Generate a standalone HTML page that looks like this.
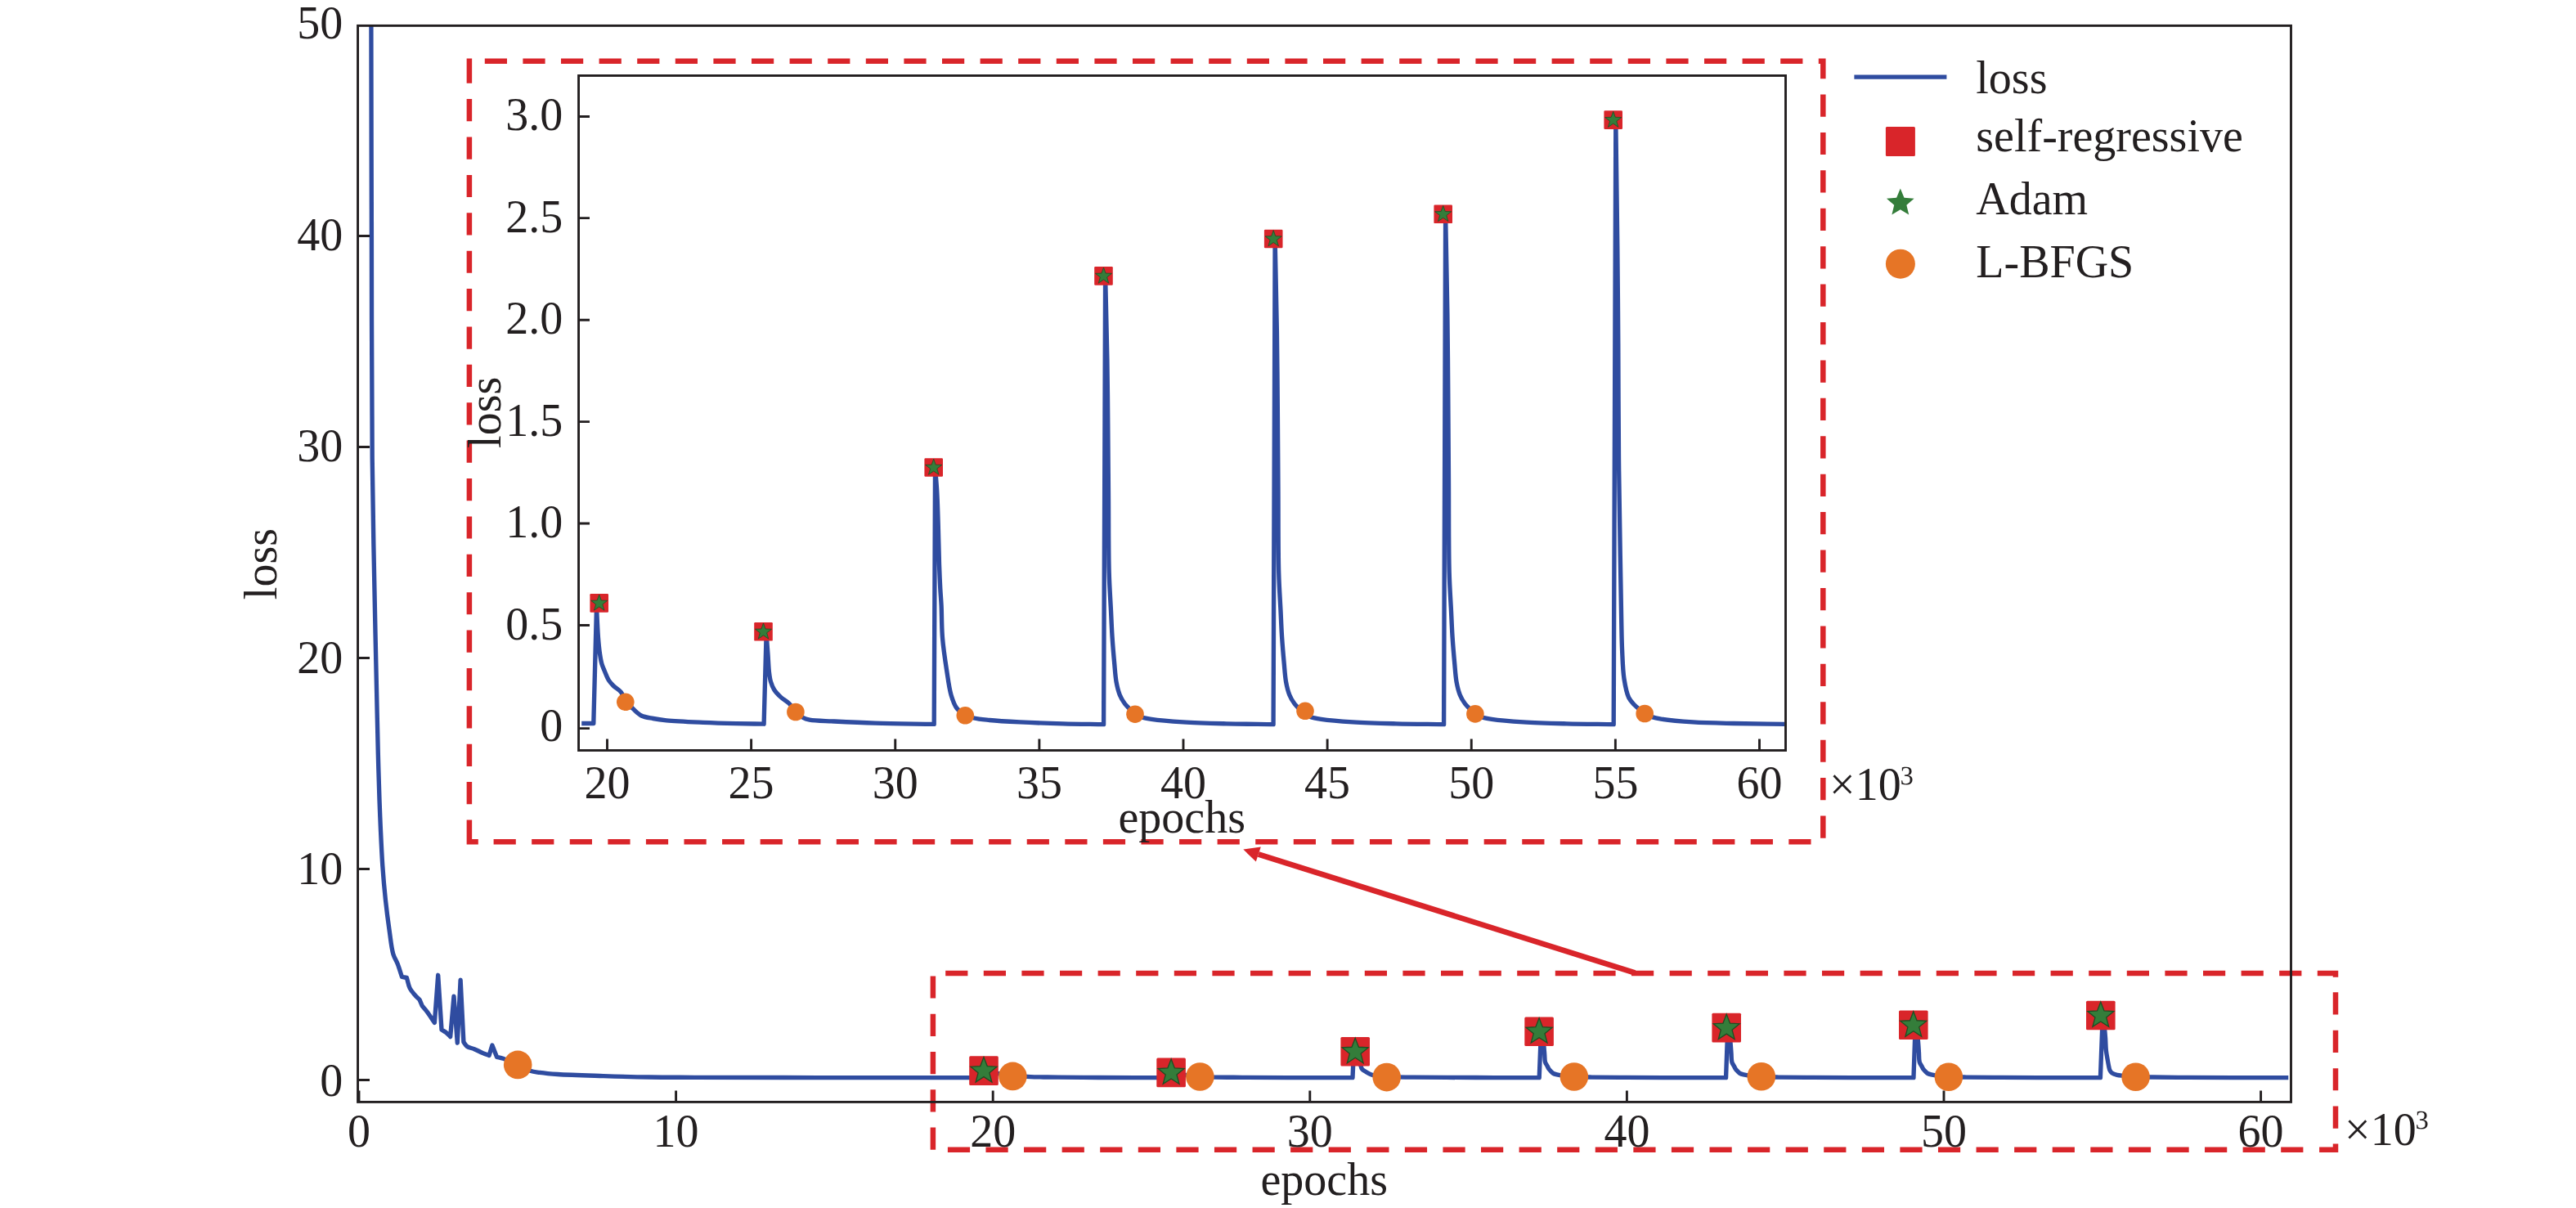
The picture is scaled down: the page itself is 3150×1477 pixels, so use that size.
<!DOCTYPE html>
<html><head><meta charset="utf-8"><style>
html,body{margin:0;padding:0;background:#fff;}
body{width:3150px;height:1477px;overflow:hidden;}
svg{display:block;font-family:"Liberation Serif",serif;}
</style></head><body>
<svg width="3150" height="1477" viewBox="0 0 3150 1477">
<rect x="0" y="0" width="3150" height="1477" fill="#ffffff"/>
<defs>
<clipPath id="mclip"><rect x="437.55" y="31.4" width="2363.95" height="1316.0"/></clipPath>
<clipPath id="iclip"><rect x="707.55" y="92.45" width="1475.95" height="825.05"/></clipPath>
</defs>
<g clip-path="url(#mclip)"><path d="M453.9,0 C453.9,10.33 453.89,15.66 453.9,31 C453.94,75.17 454.19,201.12 454.4,288 C454.62,377.38 454.42,481.43 455.2,560 C455.8,620.07 456.88,666 457.9,719 C458.92,772 460.37,837.35 461.3,878 C461.88,903.28 462.21,919.17 462.8,939.5 C463.38,959.5 463.97,979.16 464.8,999 C465.63,1018.86 466.56,1040.55 467.8,1058.6 C468.83,1073.66 469.96,1086.5 471.4,1100 C472.78,1112.98 474.51,1126.35 476.2,1138.1 C477.66,1148.27 478.61,1159.19 480.8,1166.5 C482.27,1171.4 484.42,1174.02 486.1,1178.3 C488.02,1183.21 489.7,1189.03 491.5,1194.4 L497.4,1195.5 C498.67,1199.8 499.32,1204.68 501.2,1208.4 C502.88,1211.73 505.55,1214.53 507.7,1217 C509.51,1219.08 511.3,1220.6 513.1,1222.4 L516.3,1230 C518.1,1232.13 519.71,1233.8 521.7,1236.4 C524.54,1240.11 528.17,1245.73 531.4,1250.4 L535.7,1192.3 L540,1259 C541.8,1260.1 543.68,1260.95 545.4,1262.3 C547.27,1263.77 548.93,1265.83 550.7,1267.6 L555,1218.1 L559.3,1275.2 L563.1,1198.2 L566.9,1274.1 C568.33,1275.9 569.27,1278.11 571.2,1279.5 C573.45,1281.12 576.97,1281.44 580,1282.7 C583.38,1284.1 587.26,1286.23 590.5,1287.6 C593.22,1288.75 595.57,1289.53 598.1,1290.5 L601.9,1278.1 L607.6,1292.4 C610.13,1293.03 612.17,1293.29 615.2,1294.3 C619.99,1295.9 627.58,1299.3 633.3,1301.9 C638.6,1304.31 643.59,1307.72 648.4,1309.3 C652.43,1310.62 655.51,1310.78 660,1311.4 C666.14,1312.25 672.91,1312.9 681.9,1313.5 C696.24,1314.46 719.16,1315.02 737.8,1315.6 C756.43,1316.18 775.07,1316.72 793.7,1317 C812.33,1317.28 826.45,1317.21 849.6,1317.3 C887.58,1317.44 947.64,1317.55 1000,1317.6 C1057.24,1317.66 1119.8,1317.6 1179.7,1317.6 L1179.76,1317.57 L1195.82,1317.57 L1199.9,1302.84 C1200.63,1304.15 1201.26,1305.72 1202.1,1306.77 C1202.79,1307.64 1203.58,1308.28 1204.41,1308.84 C1205.2,1309.37 1206,1309.72 1206.94,1310.06 C1208,1310.44 1209.14,1310.61 1210.46,1310.91 C1212.13,1311.28 1214.21,1311.79 1216.18,1312.11 C1218.24,1312.44 1220.19,1312.6 1222.56,1312.82 C1225.55,1313.1 1229.8,1313.22 1232.69,1313.61 C1234.87,1313.9 1236.19,1314.36 1238.41,1314.68 C1241.45,1315.12 1245.68,1315.44 1249.3,1315.76 C1252.9,1316.08 1256.14,1316.4 1260.08,1316.6 C1264.88,1316.84 1270.57,1316.86 1276.04,1316.96 C1281.84,1317.06 1286.51,1317.13 1293.98,1317.2 C1306.38,1317.31 1327.47,1317.39 1343.49,1317.46 C1358.59,1317.52 1373.42,1317.56 1387.51,1317.59 C1400.51,1317.62 1412.52,1317.63 1425.03,1317.65 L1428.33,1306.25 C1429.03,1307.11 1429.77,1307.99 1430.42,1308.84 C1431.01,1309.61 1431.4,1310.53 1432.07,1311.11 C1432.7,1311.67 1433.37,1311.98 1434.27,1312.31 C1435.52,1312.78 1437.17,1313.04 1439,1313.34 C1441.48,1313.73 1444.71,1313.99 1447.81,1314.26 C1451.24,1314.56 1455.28,1314.72 1458.7,1315.03 C1461.76,1315.32 1464.4,1315.74 1467.39,1316.03 C1470.58,1316.34 1474.05,1316.64 1477.29,1316.82 C1480.43,1317 1482.51,1317.06 1486.54,1317.13 C1494.15,1317.28 1507.15,1317.26 1519.55,1317.32 C1535.56,1317.4 1554.55,1317.49 1574.57,1317.55 C1598.62,1317.62 1627.53,1317.63 1654.01,1317.67 L1655.44,1285.2 C1656.25,1286.18 1657.2,1287.02 1657.86,1288.14 C1658.58,1289.36 1659.02,1290.81 1659.51,1292.28 C1660.06,1293.9 1660.4,1295.97 1660.94,1297.46 C1661.38,1298.64 1661.86,1299.65 1662.37,1300.56 C1662.82,1301.34 1663.37,1301.79 1663.8,1302.63 C1664.39,1303.74 1664.39,1305.52 1665.35,1306.77 C1666.55,1308.35 1669.1,1309.69 1671.07,1310.91 C1672.99,1312.09 1674.85,1313.23 1677.01,1314.01 C1679.33,1314.85 1681.79,1315.26 1684.6,1315.67 C1688.03,1316.16 1692.29,1316.29 1696.16,1316.49 C1700.03,1316.7 1703.37,1316.8 1707.82,1316.91 C1713.76,1317.05 1720.53,1317.09 1728.62,1317.17 C1739.93,1317.27 1754.54,1317.34 1769.33,1317.41 C1787.03,1317.5 1808.53,1317.56 1827.65,1317.61 C1846.14,1317.66 1864.03,1317.67 1882.23,1317.69 L1884.43,1260.98 C1885.27,1264.48 1886.36,1268.17 1886.96,1271.48 C1887.48,1274.38 1887.66,1276.89 1887.95,1279.73 C1888.25,1282.76 1888.46,1285.99 1888.72,1289.11 C1888.97,1292.24 1888.75,1295.93 1889.49,1298.49 C1890.05,1300.44 1891.25,1301.89 1892.02,1303.35 C1892.66,1304.56 1893.06,1305.61 1893.78,1306.66 C1894.54,1307.79 1895.58,1308.9 1896.53,1309.87 C1897.42,1310.78 1898.17,1311.7 1899.28,1312.35 C1900.54,1313.1 1902.11,1313.51 1903.79,1313.95 C1905.84,1314.47 1908.48,1314.8 1910.72,1315.1 C1912.83,1315.38 1914.76,1315.51 1916.89,1315.72 C1919.18,1315.94 1921.61,1316.2 1924.04,1316.37 C1926.56,1316.55 1928.76,1316.66 1931.74,1316.76 C1935.89,1316.91 1940.38,1316.96 1946.6,1317.05 C1957.1,1317.2 1973.71,1317.32 1988.96,1317.41 C2006.85,1317.52 2027.44,1317.56 2047.28,1317.61 C2067.94,1317.66 2089.46,1317.67 2110.55,1317.69 L2112.75,1256.28 C2113.59,1260.22 2114.69,1264.38 2115.28,1268.1 C2115.8,1271.37 2115.98,1274.19 2116.27,1277.38 C2116.58,1280.79 2116.78,1284.42 2117.04,1287.94 C2117.3,1291.46 2117.02,1295.71 2117.81,1298.49 C2118.38,1300.49 2119.57,1301.89 2120.34,1303.35 C2120.98,1304.56 2121.38,1305.61 2122.1,1306.66 C2122.87,1307.79 2123.9,1308.9 2124.85,1309.87 C2125.74,1310.78 2126.5,1311.7 2127.6,1312.35 C2128.86,1313.1 2130.43,1313.51 2132.12,1313.95 C2134.16,1314.47 2136.8,1314.8 2139.05,1315.1 C2141.16,1315.38 2143.08,1315.51 2145.21,1315.72 C2147.51,1315.94 2149.93,1316.2 2152.36,1316.37 C2154.88,1316.55 2157.08,1316.66 2160.07,1316.76 C2164.21,1316.91 2168.7,1316.96 2174.92,1317.05 C2185.42,1317.2 2202.04,1317.32 2217.28,1317.41 C2235.17,1317.52 2255.68,1317.56 2275.6,1317.61 C2296.53,1317.66 2318.52,1317.67 2339.97,1317.69 L2342.17,1253.15 C2343.02,1257.39 2344.11,1261.86 2344.7,1265.85 C2345.23,1269.36 2345.41,1272.39 2345.69,1275.82 C2346,1279.48 2346.21,1283.38 2346.47,1287.16 C2346.72,1290.93 2346.41,1295.57 2347.24,1298.49 C2347.81,1300.52 2349,1301.89 2349.77,1303.35 C2350.4,1304.56 2350.81,1305.61 2351.53,1306.66 C2352.29,1307.79 2353.33,1308.9 2354.28,1309.87 C2355.17,1310.78 2355.92,1311.7 2357.03,1312.35 C2358.29,1313.1 2359.85,1313.51 2361.54,1313.95 C2363.58,1314.47 2366.22,1314.8 2368.47,1315.1 C2370.58,1315.38 2372.5,1315.51 2374.63,1315.72 C2376.93,1315.94 2379.36,1316.2 2381.79,1316.37 C2384.3,1316.55 2386.5,1316.66 2389.49,1316.76 C2393.63,1316.91 2398.12,1316.96 2404.34,1317.05 C2414.85,1317.2 2431.46,1317.32 2446.71,1317.41 C2464.6,1317.52 2485.18,1317.56 2505.03,1317.61 C2525.71,1317.66 2547.28,1317.67 2568.41,1317.69 L2571.27,1241.28 C2572,1246.55 2572.9,1252.14 2573.47,1257.11 C2573.97,1261.49 2574.26,1265.22 2574.57,1269.52 C2574.9,1274.16 2574.85,1279.38 2575.34,1284.01 C2575.8,1288.32 2576.68,1292.7 2577.32,1296.42 C2577.85,1299.46 2578.36,1302.51 2578.86,1304.7 C2579.2,1306.16 2579.29,1307.16 2579.85,1308.32 C2580.46,1309.58 2581.24,1310.98 2582.49,1311.94 C2584.02,1313.11 2586.53,1313.77 2588.76,1314.32 C2591.17,1314.91 2593.96,1315 2596.47,1315.25 C2598.84,1315.49 2601.08,1315.64 2603.4,1315.82 C2605.74,1316 2607.92,1316.19 2610.44,1316.34 C2613.36,1316.51 2616.54,1316.65 2619.9,1316.76 C2623.74,1316.89 2626.88,1316.94 2632.23,1317.02 C2642.17,1317.17 2659.79,1317.32 2674.92,1317.41 C2692.1,1317.52 2710.61,1317.54 2729.94,1317.58 C2751.48,1317.62 2775.49,1317.63 2798.27,1317.66" fill="none" stroke="#2f4ca0" stroke-width="5.35" stroke-linejoin="round" stroke-linecap="butt"/></g>
<rect x="1185.2" y="1291.3" width="35.6" height="35.6" rx="1.5" fill="#d9252a"/>
<rect x="1414.3" y="1293.6" width="35.6" height="35.6" rx="1.5" fill="#d9252a"/>
<rect x="1639.4" y="1268" width="35.6" height="35.6" rx="1.5" fill="#d9252a"/>
<rect x="1864.3" y="1243.4" width="35.6" height="35.6" rx="1.5" fill="#d9252a"/>
<rect x="2093.4" y="1238.8" width="35.6" height="35.6" rx="1.5" fill="#d9252a"/>
<rect x="2322" y="1235.5" width="35.6" height="35.6" rx="1.5" fill="#d9252a"/>
<rect x="2551" y="1223.7" width="35.6" height="35.6" rx="1.5" fill="#d9252a"/>
<path d="M1203,1292.6 L1198.75,1303.56 L1187.02,1304.21 L1196.13,1311.63 L1193.13,1322.99 L1203,1316.62 L1212.87,1322.99 L1209.87,1311.63 L1218.98,1304.21 L1207.25,1303.56Z" fill="#347d3a" stroke="#1e4d22" stroke-width="1.3" stroke-linejoin="miter"/>
<path d="M1432.1,1294.9 L1427.85,1305.86 L1416.12,1306.51 L1425.23,1313.93 L1422.23,1325.29 L1432.1,1318.92 L1441.97,1325.29 L1438.97,1313.93 L1448.08,1306.51 L1436.35,1305.86Z" fill="#347d3a" stroke="#1e4d22" stroke-width="1.3" stroke-linejoin="miter"/>
<path d="M1657.2,1269.3 L1652.95,1280.26 L1641.22,1280.91 L1650.33,1288.33 L1647.33,1299.69 L1657.2,1293.32 L1667.07,1299.69 L1664.07,1288.33 L1673.18,1280.91 L1661.45,1280.26Z" fill="#347d3a" stroke="#1e4d22" stroke-width="1.3" stroke-linejoin="miter"/>
<path d="M1882.1,1244.7 L1877.85,1255.66 L1866.12,1256.31 L1875.23,1263.73 L1872.23,1275.09 L1882.1,1268.72 L1891.97,1275.09 L1888.97,1263.73 L1898.08,1256.31 L1886.35,1255.66Z" fill="#347d3a" stroke="#1e4d22" stroke-width="1.3" stroke-linejoin="miter"/>
<path d="M2111.2,1240.1 L2106.95,1251.06 L2095.22,1251.71 L2104.33,1259.13 L2101.33,1270.49 L2111.2,1264.12 L2121.07,1270.49 L2118.07,1259.13 L2127.18,1251.71 L2115.45,1251.06Z" fill="#347d3a" stroke="#1e4d22" stroke-width="1.3" stroke-linejoin="miter"/>
<path d="M2339.8,1236.8 L2335.55,1247.76 L2323.82,1248.41 L2332.93,1255.83 L2329.93,1267.19 L2339.8,1260.82 L2349.67,1267.19 L2346.67,1255.83 L2355.78,1248.41 L2344.05,1247.76Z" fill="#347d3a" stroke="#1e4d22" stroke-width="1.3" stroke-linejoin="miter"/>
<path d="M2568.8,1225 L2564.55,1235.96 L2552.82,1236.61 L2561.93,1244.03 L2558.93,1255.39 L2568.8,1249.02 L2578.67,1255.39 L2575.67,1244.03 L2584.78,1236.61 L2573.05,1235.96Z" fill="#347d3a" stroke="#1e4d22" stroke-width="1.3" stroke-linejoin="miter"/>
<circle cx="633.2" cy="1301.9" r="17.3" fill="#e67526"/>
<circle cx="1238.4" cy="1315.9" r="17.3" fill="#e67526"/>
<circle cx="1467.4" cy="1316.5" r="17.3" fill="#e67526"/>
<circle cx="1695.7" cy="1317.1" r="17.3" fill="#e67526"/>
<circle cx="1924.9" cy="1316.5" r="17.3" fill="#e67526"/>
<circle cx="2153.8" cy="1316.3" r="17.3" fill="#e67526"/>
<circle cx="2382.9" cy="1316.8" r="17.3" fill="#e67526"/>
<circle cx="2611.6" cy="1316.8" r="17.3" fill="#e67526"/>
<path d="M592.8,74.85 H620 M639.4,74.85 H666.6 M686,74.85 H713.2 M732.6,74.85 H759.8 M779.2,74.85 H806.4 M825.8,74.85 H853 M872.4,74.85 H899.6 M919,74.85 H946.2 M965.6,74.85 H992.8 M1012.2,74.85 H1039.4 M1058.8,74.85 H1086 M1105.4,74.85 H1132.6 M1152,74.85 H1179.2 M1198.6,74.85 H1225.8 M1245.2,74.85 H1272.4 M1291.8,74.85 H1319 M1338.4,74.85 H1365.6 M1385,74.85 H1412.2 M1431.6,74.85 H1458.8 M1478.2,74.85 H1505.4 M1524.8,74.85 H1552 M1571.4,74.85 H1598.6 M1618,74.85 H1645.2 M1664.6,74.85 H1691.8 M1711.2,74.85 H1738.4 M1757.8,74.85 H1785 M1804.4,74.85 H1831.6 M1851,74.85 H1878.2 M1897.6,74.85 H1924.8 M1944.2,74.85 H1971.4 M1990.8,74.85 H2018 M2037.4,74.85 H2064.6 M2084,74.85 H2111.2 M2130.6,74.85 H2157.8 M2177.2,74.85 H2204.4 M2223.8,74.85 H2229.3 V96.3 M573.9,71.6 V101.7 M573.9,121.1 V148.3 M573.9,167.49 V194.69 M573.9,213.88 V241.08 M573.9,260.27 V287.47 M573.9,306.66 V333.86 M573.9,353.05 V380.25 M573.9,399.44 V426.64 M573.9,445.83 V473.03 M573.9,492.22 V519.42 M573.9,538.61 V565.81 M573.9,585 V612.2 M573.9,631.39 V658.59 M573.9,677.78 V704.98 M573.9,724.17 V751.37 M573.9,770.56 V797.76 M573.9,816.95 V844.15 M573.9,863.34 V890.54 M573.9,909.73 V936.93 M573.9,956.12 V983.32 M573.9,1002.6 V1029.25 H584.8 M2229.3,115.5 V142.7 M2229.3,161.92 V189.12 M2229.3,208.34 V235.54 M2229.3,254.76 V281.96 M2229.3,301.18 V328.38 M2229.3,347.6 V374.8 M2229.3,394.02 V421.22 M2229.3,440.44 V467.64 M2229.3,486.86 V514.06 M2229.3,533.28 V560.48 M2229.3,579.7 V606.9 M2229.3,626.12 V653.32 M2229.3,672.54 V699.74 M2229.3,718.96 V746.16 M2229.3,765.38 V792.58 M2229.3,811.8 V839 M2229.3,858.22 V885.42 M2229.3,904.64 V931.84 M2229.3,951.06 V978.26 M2229.3,997.48 V1024.68 M603.6,1029.25 H630.8 M650.18,1029.25 H677.38 M696.76,1029.25 H723.96 M743.34,1029.25 H770.54 M789.92,1029.25 H817.12 M836.5,1029.25 H863.7 M883.08,1029.25 H910.28 M929.66,1029.25 H956.86 M976.24,1029.25 H1003.44 M1022.82,1029.25 H1050.02 M1069.4,1029.25 H1096.6 M1115.98,1029.25 H1143.18 M1162.56,1029.25 H1189.76 M1209.14,1029.25 H1236.34 M1255.72,1029.25 H1282.92 M1302.3,1029.25 H1329.5 M1348.88,1029.25 H1376.08 M1395.46,1029.25 H1422.66 M1442.04,1029.25 H1469.24 M1488.62,1029.25 H1515.82 M1535.2,1029.25 H1562.4 M1581.78,1029.25 H1608.98 M1628.36,1029.25 H1655.56 M1674.94,1029.25 H1702.14 M1721.52,1029.25 H1748.72 M1768.1,1029.25 H1795.3 M1814.68,1029.25 H1841.88 M1861.26,1029.25 H1888.46 M1907.84,1029.25 H1935.04 M1954.42,1029.25 H1981.62 M2001,1029.25 H2028.2 M2047.58,1029.25 H2074.78 M2094.16,1029.25 H2121.36 M2140.74,1029.25 H2167.94 M2187.32,1029.25 H2214.52 M1156.2,1189.9 H1183.4 M1202.8,1189.9 H1230 M1249.4,1189.9 H1276.6 M1296,1189.9 H1323.2 M1342.6,1189.9 H1369.8 M1389.2,1189.9 H1416.4 M1435.8,1189.9 H1463 M1482.4,1189.9 H1509.6 M1529,1189.9 H1556.2 M1575.6,1189.9 H1602.8 M1622.2,1189.9 H1649.4 M1668.8,1189.9 H1696 M1715.4,1189.9 H1742.6 M1762,1189.9 H1789.2 M1808.6,1189.9 H1835.8 M1855.2,1189.9 H1882.4 M1901.8,1189.9 H1929 M1948.4,1189.9 H1975.6 M1995,1189.9 H2022.2 M2041.6,1189.9 H2068.8 M2088.2,1189.9 H2115.4 M2134.8,1189.9 H2162 M2181.4,1189.9 H2208.6 M2228,1189.9 H2255.2 M2274.6,1189.9 H2301.8 M2321.2,1189.9 H2348.4 M2367.8,1189.9 H2395 M2414.4,1189.9 H2441.6 M2461,1189.9 H2488.2 M2507.6,1189.9 H2534.8 M2554.2,1189.9 H2581.4 M2600.8,1189.9 H2628 M2647.4,1189.9 H2674.6 M2694,1189.9 H2721.2 M2740.6,1189.9 H2767.8 M2787.2,1189.9 H2814.4 M2833.8,1189.9 H2856.0 V1194.7 M2856,1213.3 V1240.5 M2856,1259.72 V1286.92 M2856,1306.14 V1333.34 M2856,1352.56 V1379.76 M2856.0,1398.6 V1405.75 H2836.1 M1158.9,1405.75 H1186.1 M1205.48,1405.75 H1232.68 M1252.06,1405.75 H1279.26 M1298.64,1405.75 H1325.84 M1345.22,1405.75 H1372.42 M1391.8,1405.75 H1419 M1438.38,1405.75 H1465.58 M1484.96,1405.75 H1512.16 M1531.54,1405.75 H1558.74 M1578.12,1405.75 H1605.32 M1624.7,1405.75 H1651.9 M1671.28,1405.75 H1698.48 M1717.86,1405.75 H1745.06 M1764.44,1405.75 H1791.64 M1811.02,1405.75 H1838.22 M1857.6,1405.75 H1884.8 M1904.18,1405.75 H1931.38 M1950.76,1405.75 H1977.96 M1997.34,1405.75 H2024.54 M2043.92,1405.75 H2071.12 M2090.5,1405.75 H2117.7 M2137.08,1405.75 H2164.28 M2183.66,1405.75 H2210.86 M2230.24,1405.75 H2257.44 M2276.82,1405.75 H2304.02 M2323.4,1405.75 H2350.6 M2369.98,1405.75 H2397.18 M2416.56,1405.75 H2443.76 M2463.14,1405.75 H2490.34 M2509.72,1405.75 H2536.92 M2556.3,1405.75 H2583.5 M2602.88,1405.75 H2630.08 M2649.46,1405.75 H2676.66 M2696.04,1405.75 H2723.24 M2742.62,1405.75 H2769.82 M2789.2,1405.75 H2816.4 M1140.9,1378.6 V1405.8 M1140.9,1332.3 V1359.5 M1140.9,1286 V1313.2 M1140.9,1239.7 V1266.9 M1140.9,1193.4 V1220.6" fill="none" stroke="#d9252a" stroke-width="6.5" stroke-linecap="butt" stroke-linejoin="miter"/>
<line x1="1999.3" y1="1189.4" x2="1538.8" y2="1044.55" stroke="#d9252a" stroke-width="6.8"/>
<path d="M1520.3,1038.6 L1541.8,1035.6 L1535.8,1053.5 Z" fill="#d9252a"/>
<rect x="437.55" y="31.4" width="2363.95" height="1316" fill="none" stroke="#231f20" stroke-width="2.9"/>
<path d="M437.55,1320.5 H452 M437.55,1062.5 H452 M437.55,804.5 H452 M437.55,546.5 H452 M437.55,288.5 H452 M439,1347.4 V1333.5 M826.6,1347.4 V1333.5 M1214.2,1347.4 V1333.5 M1601.8,1347.4 V1333.5 M1989.4,1347.4 V1333.5 M2377,1347.4 V1333.5 M2764.6,1347.4 V1333.5" stroke="#231f20" stroke-width="2.9" fill="none"/>
<rect x="707.55" y="92.45" width="1475.95" height="825.05" fill="#ffffff" stroke="none"/>
<g clip-path="url(#iclip)"><path d="M711.2,884.45 L725.8,884.45 L729.5,742 C730.17,754.67 730.66,769.36 731.5,780 C732.11,787.74 732.74,794.22 733.6,800 C734.27,804.47 734.87,808.26 735.9,811.8 C736.78,814.82 737.86,817.05 739.1,820 C740.59,823.55 742.26,828.35 744.3,831.6 C746.02,834.34 747.83,836.25 750.1,838.5 C752.72,841.09 756.89,843.07 759.3,846.1 C761.68,849.09 762.18,853.2 764.5,856.5 C767.08,860.17 771.01,863.74 774.4,866.9 C777.59,869.87 780.36,873.08 784.2,875 C788.36,877.08 793.7,877.55 798.7,878.5 C803.95,879.5 808.2,880.13 815,880.8 C826.25,881.9 845.44,882.66 860,883.3 C873.72,883.9 887.2,884.28 900,884.6 C911.82,884.9 922.73,885 934.1,885.2 L937.1,775 C937.73,783.33 938.42,791.93 939,800 C939.55,807.57 939.76,815.85 940.5,822 C941.04,826.5 941.41,829.95 942.5,833.6 C943.54,837.1 944.83,840.44 946.8,843.5 C948.87,846.73 951.85,849.69 954.8,852.4 C957.81,855.16 961.73,857.05 964.7,859.9 C967.67,862.75 969.74,866.59 972.6,869.5 C975.39,872.34 978.48,875.39 981.6,877.2 C984.31,878.77 986.27,879.44 990,880.2 C996.85,881.6 1008.73,881.41 1020,882 C1034.55,882.76 1051.8,883.65 1070,884.2 C1091.86,884.86 1118.13,885 1142.2,885.4 L1143.5,571.5 C1144.23,581 1145.11,589.69 1145.7,600 C1146.4,612.2 1146.75,625.92 1147.2,640 C1147.7,655.74 1148,675.45 1148.5,690 C1148.89,701.27 1149.31,711.01 1149.8,720 C1150.2,727.34 1150.71,732.19 1151.1,740 C1151.65,751.04 1151.4,766.69 1152.5,780 C1153.6,793.36 1155.79,807.65 1157.7,820 C1159.36,830.74 1160.59,841.68 1163.1,850 C1165,856.29 1166.78,861.88 1170,866 C1172.8,869.59 1176.84,871.97 1180.5,874 C1183.89,875.88 1186.99,876.97 1191.1,878 C1196.43,879.34 1202.64,879.78 1210,880.5 C1220.27,881.51 1233.56,882.22 1247,882.9 C1263.08,883.71 1282.62,884.35 1300,884.8 C1316.81,885.24 1333.07,885.33 1349.6,885.6 L1351.6,337.4 C1352.37,371.24 1353.36,407.12 1353.9,438.93 C1354.38,467.12 1354.54,491.26 1354.8,518.7 C1355.08,547.95 1355.27,579.13 1355.5,609.35 C1355.73,639.57 1355.48,674.71 1356.2,700 C1356.72,718.22 1357.8,732.83 1358.5,747 C1359.08,758.69 1359.41,768.42 1360.1,779 C1360.78,789.42 1361.71,800.33 1362.6,810 C1363.39,818.52 1363.8,826.93 1365.1,834 C1366.16,839.75 1367.32,844.79 1369.2,849.4 C1370.89,853.52 1373.27,857.47 1375.5,860.5 C1377.29,862.93 1379.14,864.5 1381.1,866.5 C1383.16,868.6 1385.27,871.09 1387.6,872.8 C1389.79,874.41 1391.8,875.57 1394.6,876.6 C1398.29,877.95 1402.42,878.56 1408.1,879.4 C1417.62,880.81 1432.73,882.02 1446.6,882.9 C1462.84,883.93 1481.57,884.35 1499.6,884.8 C1518.37,885.27 1537.93,885.33 1557.1,885.6 L1559.1,292 C1559.87,330.08 1560.86,370.45 1561.4,406.24 C1561.88,437.96 1562.04,465.12 1562.3,496 C1562.58,528.91 1562.77,564 1563,598 C1563.23,632 1562.93,672.51 1563.7,700 C1564.22,718.67 1565.3,732.83 1566,747 C1566.58,758.69 1566.91,768.42 1567.6,779 C1568.28,789.42 1569.21,800.33 1570.1,810 C1570.89,818.52 1571.3,826.93 1572.6,834 C1573.66,839.75 1574.82,844.79 1576.7,849.4 C1578.39,853.52 1580.77,857.47 1583,860.5 C1584.79,862.93 1586.64,864.5 1588.6,866.5 C1590.66,868.6 1592.77,871.09 1595.1,872.8 C1597.29,874.41 1599.3,875.57 1602.1,876.6 C1605.79,877.95 1609.92,878.56 1615.6,879.4 C1625.12,880.81 1640.23,882.02 1654.1,882.9 C1670.34,883.93 1688.99,884.35 1707.1,884.8 C1726.12,885.27 1746.1,885.33 1765.6,885.6 L1767.6,261.8 C1768.37,302.7 1769.36,346.06 1769.9,384.5 C1770.38,418.56 1770.54,447.74 1770.8,480.9 C1771.08,516.25 1771.27,553.93 1771.5,590.45 C1771.73,626.97 1771.4,671.1 1772.2,700 C1772.72,718.94 1773.8,732.83 1774.5,747 C1775.08,758.69 1775.41,768.42 1776.1,779 C1776.78,789.42 1777.71,800.33 1778.6,810 C1779.39,818.52 1779.8,826.93 1781.1,834 C1782.16,839.75 1783.32,844.79 1785.2,849.4 C1786.89,853.52 1789.27,857.47 1791.5,860.5 C1793.29,862.93 1795.14,864.5 1797.1,866.5 C1799.16,868.6 1801.27,871.09 1803.6,872.8 C1805.79,874.41 1807.8,875.57 1810.6,876.6 C1814.29,877.95 1818.42,878.56 1824.1,879.4 C1833.62,880.81 1848.73,882.02 1862.6,882.9 C1878.84,883.93 1897.56,884.35 1915.6,884.8 C1934.4,885.27 1954,885.33 1973.2,885.6 L1975.8,147 C1976.47,198 1977.29,252.09 1977.8,300 C1978.25,342.43 1978.52,378.46 1978.8,420 C1979.1,464.87 1979.05,515.13 1979.5,560 C1979.92,601.54 1980.72,644.04 1981.3,680 C1981.78,709.36 1982.24,738.77 1982.7,760 C1983,774.04 1983.05,783.34 1983.6,795 C1984.15,806.67 1984.37,819.62 1986,830 C1987.34,838.53 1988.94,847.31 1991.7,853 C1993.62,856.95 1996.3,859.46 1998.7,862 C2000.75,864.17 2002.87,865.74 2005,867.5 C2007.1,869.24 2009.02,871.03 2011.4,872.5 C2013.98,874.09 2016.88,875.52 2020,876.6 C2023.43,877.78 2026.31,878.32 2031.2,879.1 C2040.21,880.54 2056.23,882.01 2070,882.9 C2085.6,883.91 2102.43,884.11 2120,884.5 C2139.58,884.94 2161.4,885.03 2182.1,885.3" fill="none" stroke="#2f4ca0" stroke-width="5.35" stroke-linejoin="round" stroke-linecap="butt"/></g>
<rect x="721.4" y="726.1" width="22.6" height="22.6" rx="1.2" fill="#d9252a"/>
<rect x="922.2" y="761" width="22.6" height="22.6" rx="1.2" fill="#d9252a"/>
<rect x="1130.4" y="560.2" width="22.6" height="22.6" rx="1.2" fill="#d9252a"/>
<rect x="1338.2" y="326.1" width="22.6" height="22.6" rx="1.2" fill="#d9252a"/>
<rect x="1545.9" y="280.7" width="22.6" height="22.6" rx="1.2" fill="#d9252a"/>
<rect x="1753.4" y="250.5" width="22.6" height="22.6" rx="1.2" fill="#d9252a"/>
<rect x="1961.4" y="135.3" width="22.6" height="22.6" rx="1.2" fill="#d9252a"/>
<path d="M732.7,727 L730.15,734.08 L722.62,734.32 L728.57,738.94 L726.47,746.18 L732.7,741.95 L738.93,746.18 L736.83,738.94 L742.78,734.32 L735.25,734.08Z" fill="#347d3a" stroke="#1e4d22" stroke-width="0.8"/>
<path d="M933.5,761.9 L930.95,768.98 L923.42,769.22 L929.37,773.84 L927.27,781.08 L933.5,776.85 L939.73,781.08 L937.63,773.84 L943.58,769.22 L936.05,768.98Z" fill="#347d3a" stroke="#1e4d22" stroke-width="0.8"/>
<path d="M1141.7,561.1 L1139.15,568.18 L1131.62,568.42 L1137.57,573.04 L1135.47,580.28 L1141.7,576.05 L1147.93,580.28 L1145.83,573.04 L1151.78,568.42 L1144.25,568.18Z" fill="#347d3a" stroke="#1e4d22" stroke-width="0.8"/>
<path d="M1349.5,327 L1346.95,334.08 L1339.42,334.32 L1345.37,338.94 L1343.27,346.18 L1349.5,341.95 L1355.73,346.18 L1353.63,338.94 L1359.58,334.32 L1352.05,334.08Z" fill="#347d3a" stroke="#1e4d22" stroke-width="0.8"/>
<path d="M1557.2,281.6 L1554.65,288.68 L1547.12,288.92 L1553.07,293.54 L1550.97,300.78 L1557.2,296.55 L1563.43,300.78 L1561.33,293.54 L1567.28,288.92 L1559.75,288.68Z" fill="#347d3a" stroke="#1e4d22" stroke-width="0.8"/>
<path d="M1764.7,251.4 L1762.15,258.48 L1754.62,258.72 L1760.57,263.34 L1758.47,270.58 L1764.7,266.35 L1770.93,270.58 L1768.83,263.34 L1774.78,258.72 L1767.25,258.48Z" fill="#347d3a" stroke="#1e4d22" stroke-width="0.8"/>
<path d="M1972.7,136.2 L1970.15,143.28 L1962.62,143.52 L1968.57,148.14 L1966.47,155.38 L1972.7,151.15 L1978.93,155.38 L1976.83,148.14 L1982.78,143.52 L1975.25,143.28Z" fill="#347d3a" stroke="#1e4d22" stroke-width="0.8"/>
<circle cx="764.8" cy="858.3" r="10.8" fill="#e67526"/>
<circle cx="972.9" cy="870.5" r="10.8" fill="#e67526"/>
<circle cx="1180.3" cy="874.8" r="10.8" fill="#e67526"/>
<circle cx="1388" cy="873.2" r="10.8" fill="#e67526"/>
<circle cx="1596" cy="869.3" r="10.8" fill="#e67526"/>
<circle cx="1803.9" cy="872.9" r="10.8" fill="#e67526"/>
<circle cx="2011.2" cy="872.5" r="10.8" fill="#e67526"/>
<rect x="707.55" y="92.45" width="1475.95" height="825.05" fill="none" stroke="#231f20" stroke-width="2.9"/>
<path d="M707.55,890.6 H721 M707.55,764.45 H721 M707.55,640.05 H721 M707.55,515.65 H721 M707.55,391.25 H721 M707.55,266.6 H721 M707.55,142.45 H721 M742.5,917.5 V903.4 M918.62,917.5 V903.4 M1094.75,917.5 V903.4 M1270.88,917.5 V903.4 M1447,917.5 V903.4 M1623.12,917.5 V903.4 M1799.25,917.5 V903.4 M1975.38,917.5 V903.4 M2151.5,917.5 V903.4" stroke="#231f20" stroke-width="2.9" fill="none"/>
<line x1="2267.4" y1="94.1" x2="2380.4" y2="94.1" stroke="#2f4ca0" stroke-width="5.3"/>
<rect x="2305.9" y="155.1" width="36" height="35.8" rx="1.5" fill="#d9252a"/>
<path d="M2323.8,230.6 L2319.12,241.86 L2306.97,242.83 L2316.22,250.76 L2313.4,262.62 L2323.8,256.26 L2334.2,262.62 L2331.38,250.76 L2340.63,242.83 L2328.48,241.86Z" fill="#347d3a"/>
<circle cx="2323.9" cy="322.7" r="18" fill="#e67526"/>
<g font-family="Liberation Serif" fill="#231f20"><text x="419.2" y="1340" text-anchor="end" font-size="56" >0</text><text x="419.2" y="1081.4" text-anchor="end" font-size="56" >10</text><text x="419.2" y="822.8" text-anchor="end" font-size="56" >20</text><text x="419.2" y="564.2" text-anchor="end" font-size="56" >30</text><text x="419.2" y="305.6" text-anchor="end" font-size="56" >40</text><text x="419.2" y="47" text-anchor="end" font-size="56" >50</text><text x="439" y="1401.6" text-anchor="middle" font-size="56" >0</text><text x="826.6" y="1401.6" text-anchor="middle" font-size="56" >10</text><text x="1214.2" y="1401.6" text-anchor="middle" font-size="56" >20</text><text x="1601.8" y="1401.6" text-anchor="middle" font-size="56" >30</text><text x="1989.4" y="1401.6" text-anchor="middle" font-size="56" >40</text><text x="2377" y="1401.6" text-anchor="middle" font-size="56" >50</text><text x="2764.6" y="1401.6" text-anchor="middle" font-size="56" >60</text><text x="1619.2" y="1460.8" text-anchor="middle" font-size="56" >epochs</text><text transform="translate(338.3,689.6) rotate(-90)" x="0" y="0" text-anchor="middle" font-size="56">loss</text><text x="2867.1" y="1400" font-size="56">×10</text><path transform="translate(2953.6,1380.2) scale(0.015859,-0.015859)" d="M944 365Q944 184 820.0 82.0Q696 -20 469 -20Q279 -20 109 23L98 305H164L209 117Q248 95 319.5 79.0Q391 63 453 63Q610 63 685.0 135.0Q760 207 760 375Q760 507 691.0 575.5Q622 644 477 651L334 659V741L477 750Q590 756 644.0 820.0Q698 884 698 1014Q698 1149 639.5 1210.5Q581 1272 453 1272Q400 1272 342.0 1257.5Q284 1243 240 1219L205 1055H139V1313Q238 1339 310.0 1347.5Q382 1356 453 1356Q883 1356 883 1026Q883 887 806.5 804.5Q730 722 590 702Q772 681 858.0 597.5Q944 514 944 365Z"/><text x="688.3" y="906.2" text-anchor="end" font-size="56" >0</text><text x="688.3" y="781.74" text-anchor="end" font-size="56" >0.5</text><text x="688.3" y="657.27" text-anchor="end" font-size="56" >1.0</text><text x="688.3" y="532.81" text-anchor="end" font-size="56" >1.5</text><text x="688.3" y="408.34" text-anchor="end" font-size="56" >2.0</text><text x="688.3" y="283.88" text-anchor="end" font-size="56" >2.5</text><text x="688.3" y="159.41" text-anchor="end" font-size="56" >3.0</text><text x="742.5" y="976" text-anchor="middle" font-size="56" >20</text><text x="918.62" y="976" text-anchor="middle" font-size="56" >25</text><text x="1094.75" y="976" text-anchor="middle" font-size="56" >30</text><text x="1270.88" y="976" text-anchor="middle" font-size="56" >35</text><text x="1447" y="976" text-anchor="middle" font-size="56" >40</text><text x="1623.12" y="976" text-anchor="middle" font-size="56" >45</text><text x="1799.25" y="976" text-anchor="middle" font-size="56" >50</text><text x="1975.38" y="976" text-anchor="middle" font-size="56" >55</text><text x="2151.5" y="976" text-anchor="middle" font-size="56" >60</text><text x="1445.25" y="1017.8" text-anchor="middle" font-size="56" >epochs</text><text transform="translate(612.4,504.3) rotate(-90)" x="0" y="0" text-anchor="middle" font-size="56">loss</text><text x="2237.1" y="978" font-size="56">×10</text><path transform="translate(2323.6,959.2) scale(0.015859,-0.015859)" d="M944 365Q944 184 820.0 82.0Q696 -20 469 -20Q279 -20 109 23L98 305H164L209 117Q248 95 319.5 79.0Q391 63 453 63Q610 63 685.0 135.0Q760 207 760 375Q760 507 691.0 575.5Q622 644 477 651L334 659V741L477 750Q590 756 644.0 820.0Q698 884 698 1014Q698 1149 639.5 1210.5Q581 1272 453 1272Q400 1272 342.0 1257.5Q284 1243 240 1219L205 1055H139V1313Q238 1339 310.0 1347.5Q382 1356 453 1356Q883 1356 883 1026Q883 887 806.5 804.5Q730 722 590 702Q772 681 858.0 597.5Q944 514 944 365Z"/><text x="2416.3" y="114.1" text-anchor="start" font-size="56" >loss</text><text x="2416.3" y="185.4" text-anchor="start" font-size="56" >self-regressive</text><text x="2416.3" y="262.4" text-anchor="start" font-size="56" >Adam</text><text x="2416.3" y="339.4" text-anchor="start" font-size="56" >L-BFGS</text></g>
</svg>
</body></html>
